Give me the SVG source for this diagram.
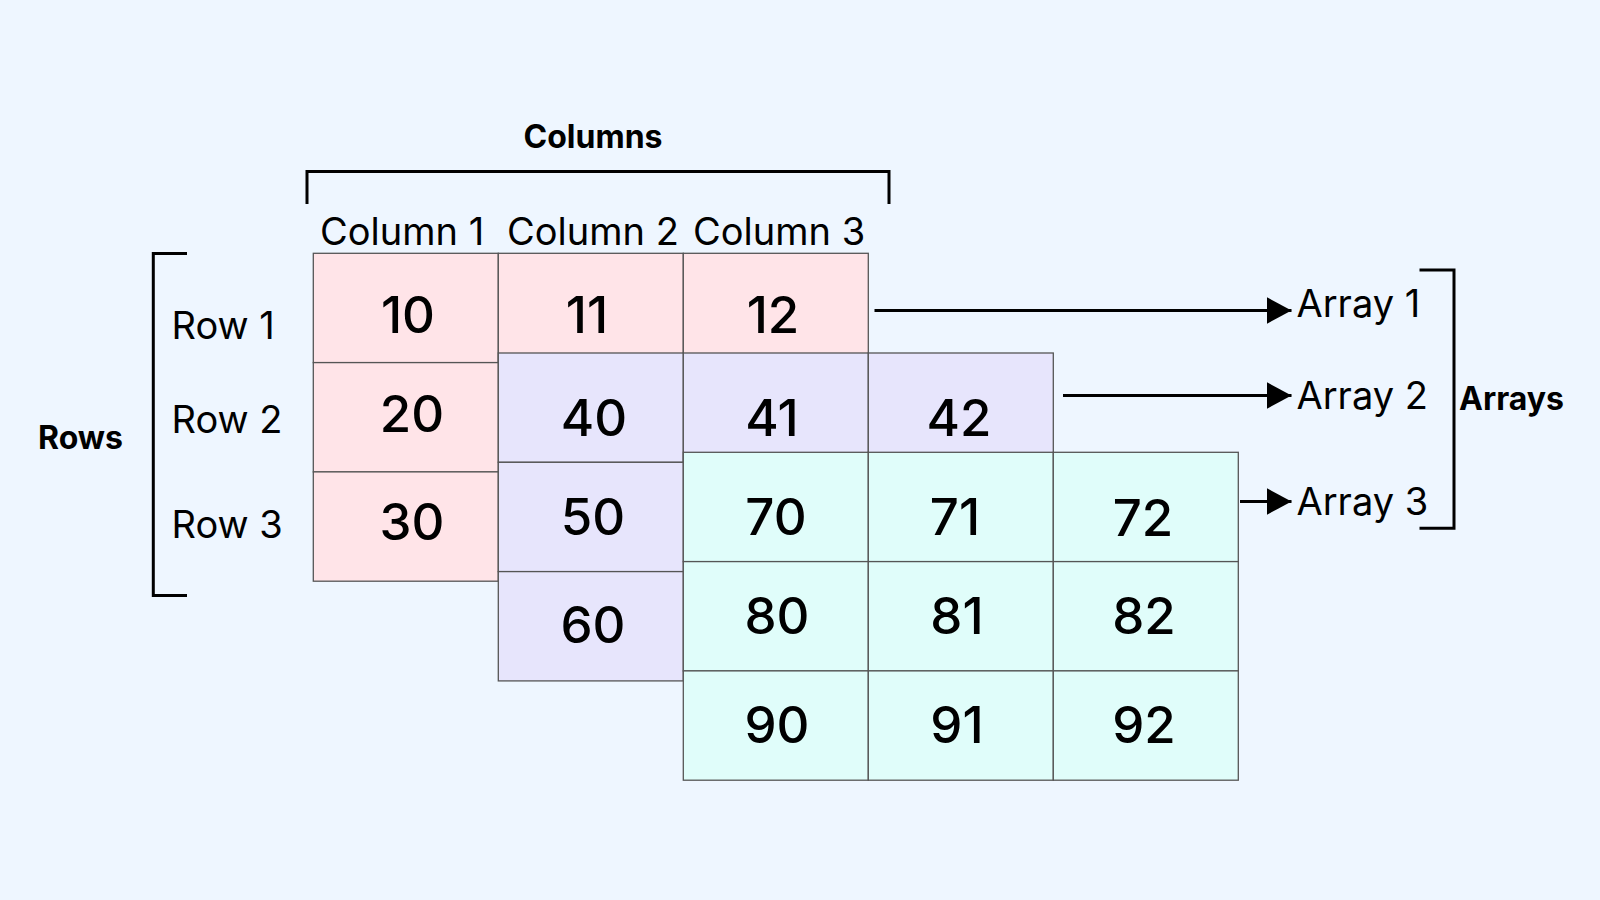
<svg xmlns="http://www.w3.org/2000/svg" width="1600" height="900" viewBox="0 0 1600 900">
  <defs>
    <marker id="arrow" markerUnits="userSpaceOnUse" markerWidth="26" markerHeight="28" refX="25" refY="13.5" orient="auto">
      <path d="M0,0 L25,13.5 L0,27 Z" fill="#000"/>
    </marker>
    <style>
      .pink { fill: #FFE4E8; stroke: #555; stroke-width: 1.3; }
      .purple { fill: #E7E5FC; stroke: #555; stroke-width: 1.3; }
      .teal { fill: #E0FDFA; stroke: #555; stroke-width: 1.3; }
      .num { font-family: Inter, "Liberation Sans", sans-serif; font-size: 51px; font-weight: 500; fill: #000; text-anchor: middle; }
      .lbl { font-family: Inter, "Liberation Sans", sans-serif; font-size: 38px; fill: #000; }
      .bold { font-family: Inter, "Liberation Sans", sans-serif; font-size: 32px; font-weight: 700; fill: #000; }
      .bracket { fill: none; stroke: #000; stroke-width: 3; }
      .conn { fill: none; stroke: #000; stroke-width: 3; marker-end: url(#arrow); }
    </style>
  </defs>
  <rect x="0" y="0" width="1600" height="900" fill="#EEF6FF"/>

  <!-- Array 1 (pink) -->
  <g id="array1">
    <g id="cell-10"><rect class="pink" x="313.3" y="253.3" width="185" height="109.3"/><text class="num" x="408" y="333">10</text></g>
    <g id="cell-11"><rect class="pink" x="498.3" y="253.3" width="185" height="109.3"/><text class="num" x="587" y="333">11</text></g>
    <g id="cell-12"><rect class="pink" x="683.3" y="253.3" width="185" height="109.3"/><text class="num" x="773" y="333">12</text></g>
    <g id="cell-20"><rect class="pink" x="313.3" y="362.6" width="185" height="109.3"/><text class="num" x="412" y="432">20</text></g>
    <g id="cell-30"><rect class="pink" x="313.3" y="471.9" width="185" height="109.3"/><text class="num" x="412" y="540">30</text></g>
  </g>

  <!-- Array 2 (purple) -->
  <g id="array2">
    <g id="cell-40"><rect class="purple" x="498.3" y="353" width="185" height="109.3"/><text class="num" x="594" y="436">40</text></g>
    <g id="cell-41"><rect class="purple" x="683.3" y="353" width="185" height="109.3"/><text class="num" x="772" y="436">41</text></g>
    <g id="cell-42"><rect class="purple" x="868.3" y="353" width="185" height="109.3"/><text class="num" x="959" y="436">42</text></g>
    <g id="cell-50"><rect class="purple" x="498.3" y="462.3" width="185" height="109.3"/><text class="num" x="593" y="535">50</text></g>
    <g id="cell-60"><rect class="purple" x="498.3" y="571.6" width="185" height="109.3"/><text class="num" x="593" y="643">60</text></g>
  </g>

  <!-- Array 3 (teal) -->
  <g id="array3">
    <g id="cell-70"><rect class="teal" x="683.3" y="452.3" width="185" height="109.3"/><text class="num" x="776" y="535">70</text></g>
    <g id="cell-71"><rect class="teal" x="868.3" y="452.3" width="185" height="109.3"/><text class="num" x="955" y="535">71</text></g>
    <g id="cell-72"><rect class="teal" x="1053.3" y="452.3" width="185" height="109.3"/><text class="num" x="1143" y="536">72</text></g>
    <g id="cell-80"><rect class="teal" x="683.3" y="561.6" width="185" height="109.3"/><text class="num" x="777" y="634">80</text></g>
    <g id="cell-81"><rect class="teal" x="868.3" y="561.6" width="185" height="109.3"/><text class="num" x="957" y="634">81</text></g>
    <g id="cell-82"><rect class="teal" x="1053.3" y="561.6" width="185" height="109.3"/><text class="num" x="1144" y="634">82</text></g>
    <g id="cell-90"><rect class="teal" x="683.3" y="670.9" width="185" height="109.3"/><text class="num" x="777" y="743">90</text></g>
    <g id="cell-91"><rect class="teal" x="868.3" y="670.9" width="185" height="109.3"/><text class="num" x="957" y="743">91</text></g>
    <g id="cell-92"><rect class="teal" x="1053.3" y="670.9" width="185" height="109.3"/><text class="num" x="1144" y="743">92</text></g>
  </g>

  <!-- Column labels -->
  <g id="columns">
    <path class="bracket" d="M307,204 V171.5 H889 V204"/>
    <text class="bold" x="593" y="148" text-anchor="middle">Columns</text>
    <text class="lbl" x="320" y="245">Column 1</text>
    <text class="lbl" x="507" y="245">Column 2</text>
    <text class="lbl" x="693" y="245">Column 3</text>
  </g>

  <!-- Row labels -->
  <g id="rows">
    <path class="bracket" d="M187,253.5 H153.3 V595.5 H187"/>
    <text class="bold" x="38" y="449.3">Rows</text>
    <text class="lbl" x="171.5" y="339.3">Row 1</text>
    <text class="lbl" x="171.5" y="432.7">Row 2</text>
    <text class="lbl" x="171.5" y="537.7">Row 3</text>
  </g>

  <!-- Array labels -->
  <g id="arrays">
    <path class="bracket" d="M1419.5,270 H1454 V528.3 H1419.5"/>
    <text class="bold" x="1459" y="410">Arrays</text>
    <text class="lbl" x="1296.5" y="316.7">Array 1</text>
    <text class="lbl" x="1296.5" y="409.3">Array 2</text>
    <text class="lbl" x="1296.5" y="515">Array 3</text>
  </g>

  <!-- Connectors -->
  <g id="connectors">
    <line class="conn" x1="874.5" y1="310.5" x2="1291.5" y2="310.5"/>
    <line class="conn" x1="1063" y1="395.5" x2="1291.5" y2="395.5"/>
    <line class="conn" x1="1240" y1="501.5" x2="1291.5" y2="501.5"/>
  </g>
</svg>
